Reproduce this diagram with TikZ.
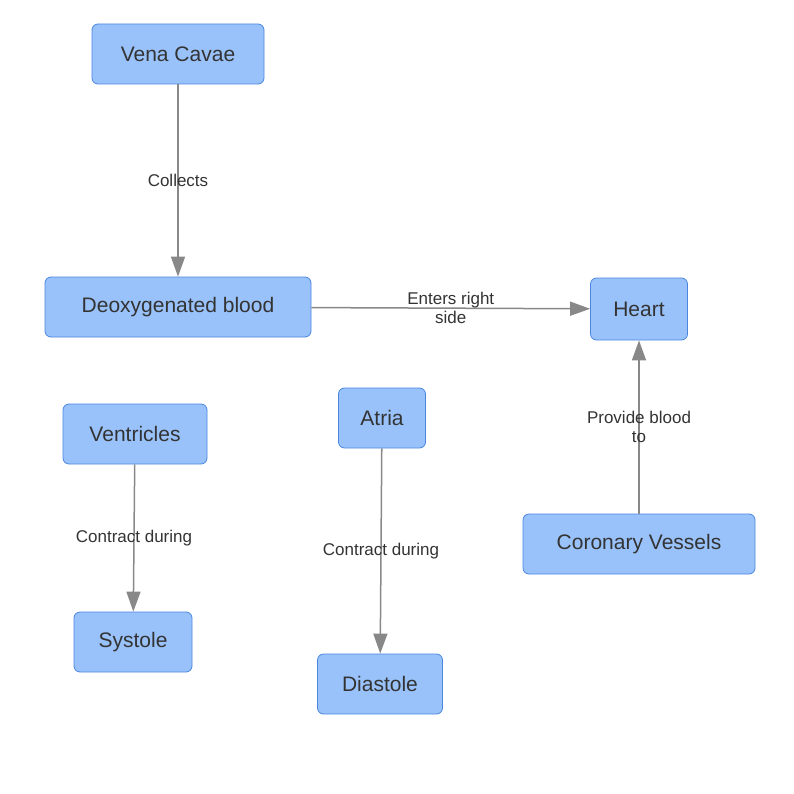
\documentclass[tikz,border=0pt]{standalone}
\usepackage{fontspec}
\setmainfont{Liberation Sans}
\usetikzlibrary{arrows.meta}
\definecolor{nfill}{HTML}{99C2FA}
\definecolor{nborder}{HTML}{4A86E0}
\definecolor{edge}{HTML}{888888}
\definecolor{txt}{HTML}{333333}
\begin{document}
\begin{tikzpicture}[x=1pt,y=-1pt,
  box/.style={draw=nborder,fill=nfill,rounded corners=6pt,line width=0.8pt,minimum height=60pt,text=txt,font=\fontsize{21}{24}\selectfont,inner sep=0pt},
  conn/.style={draw=edge,line width=1.5pt,-{Triangle[length=20pt,width=14pt]}},
  lab/.style={text=txt,font=\fontsize{17}{19}\selectfont,align=center,inner sep=1pt}]
\useasboundingbox (0,0) rectangle (794,794);
\node[box,minimum width=172pt] (vc) at (178,54) {Vena Cavae};
\node[box,minimum width=266pt] (db) at (178,307) {Deoxygenated blood};
\node[box,minimum width=97pt,minimum height=62pt] (h) at (639,309) {Heart};
\node[box,minimum width=144pt] (v) at (135,434) {Ventricles};
\node[box,minimum width=87pt] (a) at (382,418) {Atria};
\node[box,minimum width=232pt] (cv) at (639,544) {Coronary Vessels};
\node[box,minimum width=118pt] (s) at (133,642) {Systole};
\node[box,minimum width=125pt] (d) at (380,684) {Diastole};
\draw[conn] (vc) -- node[lab]{Collects} (db);
\draw[conn] (db) -- node[lab]{Enters right\\side} (h);
\draw[conn] (cv) -- node[lab]{Provide blood\\to} (h);
\draw[conn] (v) -- node[lab,pos=0.5]{Contract during} (s);
\draw[conn] (a) -- node[lab]{Contract during} (d);
\end{tikzpicture}
\end{document}
